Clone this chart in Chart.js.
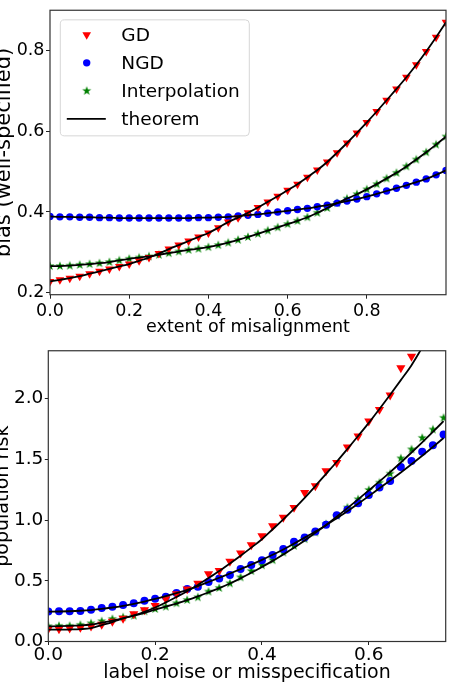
<!DOCTYPE html>
<html><head><meta charset="utf-8">
<script src="https://cdn.jsdelivr.net/npm/chart.js@4.4.0/dist/chart.umd.min.js"></script>
<style>
html,body{margin:0;padding:0;background:#fff;overflow:hidden;width:451px;height:685px;}
#c1{position:absolute;left:0;top:0;}
#c2{position:absolute;left:0;top:340px;}
</style></head><body>
<canvas id="c1" width="451" height="340"></canvas>
<canvas id="c2" width="451" height="345"></canvas>
<script>
// ---------- DATA ----------
const topX = [0,0.025,0.05,0.075,0.1,0.125,0.15,0.175,0.2,0.225,0.25,0.275,0.3,0.325,0.35,0.375,0.4,0.425,0.45,0.475,0.5,0.525,0.55,0.575,0.6,0.625,0.65,0.675,0.7,0.725,0.75,0.775,0.8,0.825,0.85,0.875,0.9,0.925,0.95,0.975,1.0];
const gdTop = [0.228,0.232,0.236,0.241,0.247,0.253,0.259,0.265,0.271,0.279,0.287,0.297,0.308,0.318,0.328,0.338,0.348,0.361,0.375,0.386,0.398,0.411,0.425,0.439,0.454,0.469,0.486,0.504,0.524,0.547,0.571,0.596,0.622,0.649,0.677,0.705,0.734,0.765,0.798,0.833,0.870];
const ngdTop = [0.389,0.388,0.388,0.387,0.387,0.386,0.386,0.385,0.385,0.385,0.385,0.385,0.385,0.385,0.385,0.386,0.386,0.387,0.388,0.390,0.392,0.394,0.397,0.400,0.403,0.406,0.409,0.413,0.417,0.422,0.427,0.432,0.438,0.445,0.452,0.459,0.466,0.474,0.482,0.492,0.503];
const interpTop = [0.266,0.266,0.267,0.269,0.271,0.273,0.276,0.280,0.284,0.287,0.290,0.294,0.298,0.302,0.306,0.309,0.313,0.318,0.324,0.331,0.338,0.346,0.354,0.362,0.370,0.378,0.387,0.398,0.410,0.422,0.433,0.444,0.456,0.469,0.483,0.497,0.513,0.530,0.548,0.567,0.587];

const botX = [0,0.02,0.04,0.06,0.08,0.1,0.12,0.14,0.16,0.18,0.2,0.22,0.24,0.26,0.28,0.3,0.32,0.34,0.36,0.38,0.4,0.42,0.44,0.46,0.48,0.5,0.52,0.54,0.56,0.58,0.6,0.62,0.64,0.66,0.68,0.7,0.72,0.74];
const gdBot = [0.104,0.104,0.110,0.115,0.125,0.140,0.165,0.190,0.227,0.260,0.296,0.350,0.391,0.432,0.479,0.556,0.583,0.659,0.728,0.796,0.870,0.952,1.021,1.103,1.226,1.281,1.404,1.472,1.601,1.691,1.814,1.910,2.028,2.252,2.348,null,null,null];
const gdBotTheory = [0.097,0.097,0.099,0.102,0.110,0.135,0.160,0.190,0.215,0.245,0.280,0.322,0.366,0.414,0.466,0.522,0.580,0.642,0.706,0.773,0.842,0.924,1.006,1.092,1.183,1.280,1.380,1.480,1.585,1.692,1.800,1.915,2.032,2.152,2.275,2.420,null,null];
const ngdBot = [0.246,0.249,0.249,0.252,0.262,0.276,0.287,0.301,0.315,0.335,0.352,0.369,0.399,0.432,0.451,0.490,0.518,0.548,0.597,0.630,0.670,0.712,0.761,0.821,0.857,0.906,0.961,1.040,1.084,1.139,1.207,1.267,1.322,1.437,1.486,1.562,1.615,1.705];
const ngdBotTheory = [0.246,0.247,0.249,0.253,0.259,0.268,0.280,0.294,0.310,0.329,0.350,0.373,0.398,0.425,0.456,0.490,0.525,0.560,0.596,0.633,0.672,0.714,0.758,0.806,0.855,0.905,0.958,1.015,1.073,1.134,1.197,1.262,1.326,1.392,1.460,1.530,1.602,1.676];
const interpBot = [0.126,0.129,0.129,0.137,0.150,0.167,0.186,0.200,0.213,0.249,0.268,0.287,0.315,0.342,0.364,0.411,0.441,0.479,0.528,0.580,0.628,0.670,0.733,0.788,0.843,0.898,0.966,1.034,1.103,1.171,1.248,1.308,1.382,1.508,1.582,1.677,1.746,1.842];
const interpBotTheory = [0.125,0.126,0.128,0.132,0.140,0.155,0.172,0.190,0.212,0.236,0.262,0.287,0.312,0.340,0.371,0.405,0.440,0.478,0.520,0.566,0.614,0.664,0.717,0.772,0.831,0.895,0.960,1.028,1.098,1.170,1.244,1.318,1.395,1.474,1.556,1.640,1.726,1.814];

const topXTicks = [0.0,0.2,0.4,0.6,0.8];
const topYTicks = [0.2,0.4,0.6,0.8];
const botXTicks = [0.0,0.2,0.4,0.6];
const botYTicks = [0.0,0.5,1.0,1.5,2.0];

const seriesLabels = ['GD','NGD','Interpolation','theorem'];
const topXTitle = 'extent of misalignment';
const topYTitle = 'bias (well-specified)';
const botXTitle = 'label noise or misspecification';
const botYTitle = 'population risk';

// ---------- STYLE ----------
const FONT = 'DejaVu Sans';
const RED = '#ff0000', BLUE = '#0000ff', GREEN = '#008000';

function starImg(color, R, r) {
  const s = Math.ceil(R * 2 + 2);
  const c = document.createElement('canvas');
  c.width = s; c.height = s;
  const g = c.getContext('2d');
  g.fillStyle = color;
  g.beginPath();
  for (let k = 0; k < 10; k++) {
    const rad = (k % 2) ? r : R;
    const a = -Math.PI / 2 + k * Math.PI / 5;
    const px = s / 2 + rad * Math.cos(a), py = s / 2 + rad * Math.sin(a);
    if (k) g.lineTo(px, py); else g.moveTo(px, py);
  }
  g.closePath(); g.fill();
  return c;
}
const STAR = starImg(GREEN, 4.8, 1.9);

function pts(xs, ys) { return xs.map((x, i) => ({x: x, y: ys[i]})); }

function markerDS(label, xs, ys, style, color, radius, rotation) {
  return {label: label, data: pts(xs, ys), showLine: false, pointStyle: style,
    pointRadius: radius, pointHoverRadius: radius, pointRotation: rotation || 0,
    backgroundColor: color, borderColor: color, pointBorderWidth: 0,
    order: 1, clip: 0, legendItem: true};
}
function lineDS(label, xs, ys, legend) {
  return {label: label, data: pts(xs, ys), showLine: true, borderColor: '#000',
    backgroundColor: '#000', borderWidth: 1.8, pointRadius: 0, pointHoverRadius: 0,
    cubicInterpolationMode: 'monotone', fill: false, order: 0, clip: 0, legendItem: !!legend};
}

const framePlugin = {
  id: 'frame',
  afterDatasetsDraw(chart) {
    const {ctx, chartArea: a} = chart;
    ctx.save();
    ctx.strokeStyle = '#333';
    ctx.lineWidth = 1.2;
    ctx.strokeRect(a.left, a.top, a.right - a.left, a.bottom - a.top);
    ctx.restore();
  }
};

const legendPlugin = {
  id: 'mplLegend',
  afterDraw(chart, args, opts) {
    if (!opts || !opts.show) return;
    const ctx = chart.ctx, a = chart.chartArea;
    const bx = a.left + 10.3, by = a.top + 9.6, bw = 189, bh = 116, r = 4;
    ctx.save();
    ctx.beginPath();
    ctx.moveTo(bx + r, by);
    ctx.arcTo(bx + bw, by, bx + bw, by + bh, r);
    ctx.arcTo(bx + bw, by + bh, bx, by + bh, r);
    ctx.arcTo(bx, by + bh, bx, by, r);
    ctx.arcTo(bx, by, bx + bw, by, r);
    ctx.closePath();
    ctx.fillStyle = 'rgba(255,255,255,0.85)';
    ctx.fill();
    ctx.strokeStyle = '#d6d6d6';
    ctx.lineWidth = 1;
    ctx.stroke();
    const items = chart.data.datasets.filter(d => d.legendItem);
    ctx.font = '18.5px "' + FONT + '"';
    ctx.textBaseline = 'middle';
    ctx.textAlign = 'left';
    items.forEach((d, i) => {
      const cy = by + 15 + i * 28;
      const mx = bx + 26.4;
      if (d.showLine) {
        ctx.strokeStyle = '#000';
        ctx.lineWidth = 1.8;
        ctx.beginPath();
        ctx.moveTo(bx + 6.5, cy); ctx.lineTo(bx + 45.5, cy);
        ctx.stroke();
      } else if (d.pointStyle instanceof HTMLCanvasElement) {
        ctx.drawImage(d.pointStyle, mx - d.pointStyle.width / 2, cy - d.pointStyle.height / 2);
      } else {
        ctx.fillStyle = d.backgroundColor;
        Chart.helpers.drawPoint(ctx, {pointStyle: d.pointStyle, radius: d.pointRadius,
          rotation: d.pointRotation, borderWidth: 0}, mx, cy);
      }
      ctx.fillStyle = '#000';
      ctx.fillText(d.label, bx + 61, cy + 1);
    });
    ctx.restore();
  }
};

function axisCfg(o) {
  return {
    type: 'linear', min: o.min, max: o.max,
    afterBuildTicks: (ax) => { ax.ticks = o.ticks.map(v => ({value: v})); },
    afterFit: o.fit,
    ticks: {callback: (v) => Number(v).toFixed(1), color: '#000', autoSkip: false, maxRotation: 0,
      font: {family: FONT, size: o.tickSize, lineHeight: 1.0}, padding: o.tickPad},
    grid: {display: true, drawOnChartArea: false, drawTicks: true, tickLength: o.tickLen,
      tickColor: '#222', tickWidth: 1, color: '#222'},
    border: {display: false},
    title: {display: true, text: o.title, color: '#000',
      font: {family: FONT, size: o.titleSize, lineHeight: o.titleLH}, padding: o.titlePad}
  };
}

function makeChart(id, cfg) {
  return new Chart(document.getElementById(id), {
    type: 'scatter',
    data: {datasets: cfg.datasets},
    options: {
      responsive: false, animation: false, events: [],
      layout: {padding: cfg.padding},
      plugins: {legend: {display: false}, tooltip: {enabled: false}, mplLegend: {show: cfg.legend}},
      scales: {x: cfg.x, y: cfg.y}
    },
    plugins: [framePlugin, legendPlugin]
  });
}

// ---------- TOP ----------
makeChart('c1', {
  legend: true,
  padding: {top: 4.7, right: 2.7, bottom: 0, left: 0},
  datasets: [
    markerDS(seriesLabels[0], topX, gdTop, 'triangle', RED, 5, 180),
    markerDS(seriesLabels[1], topX, ngdTop, 'circle', BLUE, 3.7),
    markerDS(seriesLabels[2], topX, interpTop, STAR, GREEN, 4),
    lineDS(seriesLabels[3], topX, gdTop, true),
    lineDS(seriesLabels[3], topX, ngdTop),
    lineDS(seriesLabels[3], topX, interpTop)
  ],
  x: axisCfg({min: 0, max: 1.0, ticks: topXTicks, tickSize: 17.5, tickPad: 4, tickLen: 4,
    title: topXTitle, titleSize: 17.5, titleLH: 1.2, titlePad: {top: 0, bottom: 2.5},
    fit: (s) => { s.height = 45.3; }}),
  y: axisCfg({min: 0.195, max: 0.9, ticks: topYTicks, tickSize: 17.5, tickPad: 1.5, tickLen: 4,
    title: topYTitle, titleSize: 21, titleLH: 0.43, titlePad: {top: 0, bottom: 0},
    fit: (s) => { s.width = 50; }})
});

// ---------- BOTTOM ----------
makeChart('c2', {
  legend: false,
  padding: {top: 9.3, right: 2.7, bottom: 0, left: 0},
  datasets: [
    markerDS(seriesLabels[0], botX, gdBot, 'triangle', RED, 5.3, 180),
    markerDS(seriesLabels[1], botX, ngdBot, 'circle', BLUE, 4),
    markerDS(seriesLabels[2], botX, interpBot, STAR, GREEN, 4),
    lineDS(seriesLabels[3], botX, gdBotTheory),
    lineDS(seriesLabels[3], botX, ngdBotTheory),
    lineDS(seriesLabels[3], botX, interpBotTheory)
  ],
  x: axisCfg({min: 0, max: 0.744, ticks: botXTicks, tickSize: 18.5, tickPad: 1, tickLen: 3.5,
    title: botXTitle, titleSize: 19, titleLH: 1.2, titlePad: {top: 0, bottom: 0.3},
    fit: (s) => { s.height = 43.5; }}),
  y: axisCfg({min: 0, max: 2.394, ticks: botYTicks, tickSize: 18.5, tickPad: 1.5, tickLen: 3.5,
    title: botYTitle, titleSize: 19, titleLH: 0.27, titlePad: {top: 0, bottom: 0},
    fit: (s) => { s.width = 48.3; }})
});
</script>
</body></html>
